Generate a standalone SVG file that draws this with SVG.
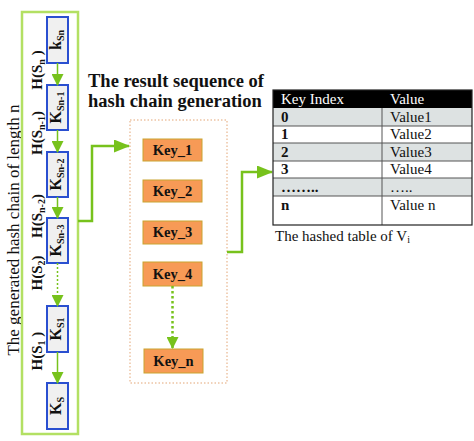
<svg xmlns="http://www.w3.org/2000/svg" width="474" height="441" viewBox="0 0 474 441">
<defs>
<marker id="ah" markerUnits="userSpaceOnUse" markerWidth="12" markerHeight="12" refX="11" refY="6" orient="auto" viewBox="0 0 12 12"><path d="M0,0 L12,6 L0,12 z" fill="#77c21c"/></marker>
<marker id="big" markerUnits="userSpaceOnUse" markerWidth="16" markerHeight="13" refX="15" refY="6.5" orient="auto" viewBox="0 0 16 13"><path d="M0,0 L16,6.5 L0,13 z" fill="#77c21c"/></marker>
</defs>
<style>
text{font-family:"Liberation Serif","Times New Roman","DejaVu Serif",serif}
.blue{fill:#f0f0f0;stroke:#2a4fd0;stroke-width:2}
.key{fill:#f79a56;stroke:#c9a431;stroke-width:1}
.kl{font-weight:bold;font-size:16px;fill:#111;text-anchor:middle}
.hl{font-weight:bold;font-size:15px;fill:#111;text-anchor:middle}
.keyt{font-weight:bold;font-size:14.5px;fill:#111;text-anchor:middle}
.tt{font-size:15px;fill:#111}
.tb{font-size:15px;font-weight:bold;fill:#111}
.ttl{font-size:18.5px;font-weight:bold;fill:#111}
.conn{fill:none;stroke:#77c21c;stroke-width:2.5}
.chain{fill:none;stroke:#77c21c;stroke-width:1.5}
.row{stroke:#555;stroke-width:1}
</style>
<text class="tt" style="font-size:17px" transform="translate(19,230) rotate(-90)" text-anchor="middle">The generated hash chain of length n</text>
<g id="chain-box"><rect x="22" y="12" width="56" height="422" fill="#fff" stroke="#b3e063" stroke-width="2.5"/></g>
<g id="k1"><rect class="blue" x="47" y="17" width="21" height="46"/><text class="kl" transform="translate(61,40) rotate(-90)">k<tspan font-size="10" dy="3">Sn</tspan></text></g>
<g id="k2"><rect class="blue" x="47" y="85" width="21" height="45"/><text class="kl" transform="translate(61,107.5) rotate(-90)">K<tspan font-size="10" dy="3">Sn-1</tspan></text></g>
<g id="k3"><rect class="blue" x="47" y="152" width="21" height="45"/><text class="kl" transform="translate(61,174.5) rotate(-90)">K<tspan font-size="10" dy="3">Sn-2</tspan></text></g>
<g id="k4"><rect class="blue" x="47" y="218" width="21" height="45"/><text class="kl" transform="translate(61,240.5) rotate(-90)">K<tspan font-size="10" dy="3">Sn-3</tspan></text></g>
<g id="k5"><rect class="blue" x="47" y="306" width="21" height="46"/><text class="kl" transform="translate(61,329) rotate(-90)">K<tspan font-size="10" dy="3">S1</tspan></text></g>
<g id="k6"><rect class="blue" x="47" y="383" width="21" height="46"/><text class="kl" transform="translate(61,406) rotate(-90)">K<tspan font-size="10" dy="3">S</tspan></text></g>
<g id="hlabels">
<text class="hl" transform="translate(42,70) rotate(-90)">H(S<tspan font-size="10" dy="3">n</tspan><tspan dy="-3"> )</tspan></text>
<text class="hl" transform="translate(42,133) rotate(-90)">H(S<tspan font-size="10" dy="3">n-1</tspan><tspan dy="-3">)</tspan></text>
<text class="hl" transform="translate(42,216) rotate(-90)">H(S<tspan font-size="10" dy="3">n-2</tspan><tspan dy="-3">)</tspan></text>
<text class="hl" transform="translate(42,273) rotate(-90)">H(S<tspan font-size="10" dy="3">2</tspan><tspan dy="-3">)</tspan></text>
<text class="hl" transform="translate(42,351) rotate(-90)">H(S<tspan font-size="10" dy="3">1</tspan><tspan dy="-3"> )</tspan></text>
</g>
<g id="title"><text class="ttl" x="88" y="87">The result sequence of</text><text class="ttl" x="88" y="107">hash chain generation</text></g>
<g id="seq-box"><rect x="130" y="120" width="97" height="263" fill="none" stroke="#e3a574" stroke-width="1" stroke-dasharray="1.5,2"/></g>
<g id="key1"><rect class="key" x="143" y="139" width="59" height="22"/><text class="keyt" x="172.5" y="155">Key_1</text></g>
<g id="key2"><rect class="key" x="143" y="180" width="59" height="22"/><text class="keyt" x="172.5" y="196">Key_2</text></g>
<g id="key3"><rect class="key" x="143" y="221" width="59" height="23"/><text class="keyt" x="172.5" y="237">Key_3</text></g>
<g id="key4"><rect class="key" x="143" y="262" width="59" height="24"/><text class="keyt" x="172.5" y="279">Key_4</text></g>
<g id="keyn"><rect class="key" x="144" y="349" width="59" height="24"/><text class="keyt" x="173.5" y="366">Key_n</text></g>
<g id="connectors">
<line class="chain" x1="57.5" y1="63" x2="57.5" y2="85" marker-end="url(#ah)"/>
<line class="chain" x1="57.5" y1="130" x2="57.5" y2="152" marker-end="url(#ah)"/>
<line class="chain" x1="57.5" y1="197" x2="57.5" y2="218" marker-end="url(#ah)"/>
<line class="chain" x1="57.5" y1="263" x2="57.5" y2="306" stroke-dasharray="2,2" marker-end="url(#ah)"/>
<line class="chain" x1="57.5" y1="352" x2="57.5" y2="383" marker-end="url(#ah)"/>
<path class="conn" d="M78,221 H92 V146 H129" marker-end="url(#big)"/>
<path class="conn" d="M227,252 H242 V172 H272" marker-end="url(#big)"/>
<line x1="172.5" y1="286" x2="172.5" y2="348" stroke="#77c21c" stroke-width="2.5" stroke-dasharray="2.5,2.5" marker-end="url(#ah)"/>
</g>
<g id="table">
<rect x="273" y="90" width="199" height="18" fill="#000"/>
<rect x="273" y="108" width="199" height="18" fill="#dde2e2"/>
<rect x="273" y="126" width="199" height="17" fill="#fff"/>
<rect x="273" y="143" width="199" height="18" fill="#dde2e2"/>
<rect x="273" y="161" width="199" height="17" fill="#fff"/>
<rect x="273" y="178" width="199" height="18" fill="#dde2e2"/>
<rect x="273" y="196" width="199" height="29" fill="#fff"/>
<line class="row" x1="273" y1="126" x2="472" y2="126"/>
<line class="row" x1="273" y1="143" x2="472" y2="143"/>
<line class="row" x1="273" y1="161" x2="472" y2="161"/>
<line class="row" x1="273" y1="178" x2="472" y2="178"/>
<line class="row" x1="273" y1="196" x2="472" y2="196"/>
<line class="row" x1="382" y1="108" x2="382" y2="225"/>
<rect x="273" y="90" width="199" height="135" fill="none" stroke="#222" stroke-width="1.2"/>
<text class="tt" x="281" y="104" style="fill:#fff">Key Index</text>
<text class="tt" x="390" y="104" style="fill:#fff">Value</text>
<text class="tb" x="281" y="122">0</text><text class="tt" x="390" y="122">Value1</text>
<text class="tb" x="281" y="139">1</text><text class="tt" x="390" y="139">Value2</text>
<text class="tb" x="281" y="157">2</text><text class="tt" x="390" y="157">Value3</text>
<text class="tb" x="281" y="174">3</text><text class="tt" x="390" y="174">Value4</text>
<text class="tb" x="281" y="192">……..</text><text class="tt" x="390" y="192">…..</text>
<text class="tb" x="281" y="210">n</text><text class="tt" x="390" y="210">Value n</text>
<text class="tt" x="275" y="241">The hashed table of V<tspan font-size="10" dy="2">i</tspan></text>
</g>
</svg>
